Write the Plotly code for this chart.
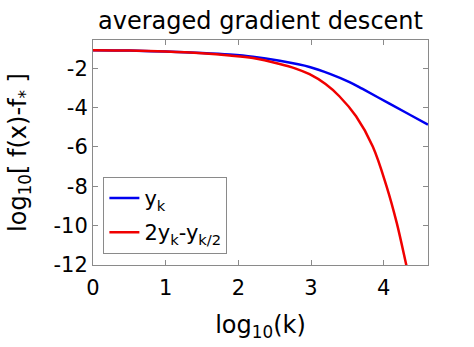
import plotly.graph_objects as go

# data
x_blue = [0, 0.5, 1.0, 1.5, 1.88, 2.2, 2.57, 2.98, 3.26, 3.53, 3.71, 4.08, 4.36, 4.61]
y_blue = [-1.08, -1.1, -1.15, -1.22, -1.30, -1.41, -1.62, -1.93, -2.28, -2.70, -3.05, -3.80, -4.36, -4.86]

x_red = [0, 0.5, 1.0, 1.5, 1.88, 2.2, 2.57, 2.78, 2.98, 3.2, 3.39, 3.62, 3.85, 4.04, 4.18, 4.31, 4.33]
y_red = [-1.08, -1.1, -1.15, -1.24, -1.35, -1.48, -1.78, -2.0, -2.3, -2.8, -3.42, -4.44, -5.97, -8.0, -9.86, -11.98, -12.3]

x_ticks = [0, 1, 2, 3, 4]
y_ticks = [-12, -10, -8, -6, -4, -2]

FONT = "DejaVu Sans"
AXC = "#8a8a8a"

fig = go.Figure()
fig.add_trace(go.Scatter(x=x_blue, y=y_blue, mode="lines", name="y<sub>k</sub>",
                         line=dict(color="#0000f0", width=2.5, shape="spline", smoothing=1.0),
                         legendgroup="a"))
fig.add_trace(go.Scatter(x=x_red, y=y_red, mode="lines", name="2y<sub>k</sub>-y<sub>k/2</sub>",
                         line=dict(color="#f00000", width=2.5, shape="spline", smoothing=1.0),
                         legendgroup="b"))

fig.update_layout(
    width=474, height=347,
    margin=dict(l=93, r=45.5, t=40, b=82),
    paper_bgcolor="white", plot_bgcolor="white",
    font=dict(family=FONT, color="black", size=21),
    title=dict(text="averaged gradient descent", x=0.5, xref="paper", xanchor="center",
               y=1 - 21 / 347, yref="container", yanchor="middle",
               font=dict(family=FONT, size=24, color="black")),
    showlegend=True,
    legend=dict(x=0.031, y=0.392, xanchor="left", yanchor="top",
                bgcolor="white", bordercolor=AXC, borderwidth=1,
                font=dict(family=FONT, size=21, color="black"),
                tracegroupgap=4, traceorder="grouped"),
    xaxis=dict(range=[0, 4.61], tickvals=x_ticks, ticktext=[str(v) for v in x_ticks],
               ticks="inside", ticklen=5, tickcolor=AXC, showline=True, linecolor=AXC,
               linewidth=1, mirror="ticks", showgrid=False, zeroline=False,
               ticklabelstandoff=4,
               tickfont=dict(family=FONT, size=21, color="black"),
               title=dict(text="log<sub>10</sub>(k)", font=dict(family=FONT, size=24, color="black"),
                          standoff=16)),
    yaxis=dict(range=[-12, -0.56], tickvals=y_ticks, ticktext=[str(v) for v in y_ticks],
               ticks="inside", ticklen=5, tickcolor=AXC, showline=True, linecolor=AXC,
               linewidth=1, mirror="ticks", showgrid=False, zeroline=False,
               tickfont=dict(family=FONT, size=21, color="black"),
               title=dict(text="log<sub>10</sub>[ f(x)-f<sub>*</sub> ]",
                          font=dict(family=FONT, size=24, color="black"), standoff=20)),
)

fig.write_html("out.html")
